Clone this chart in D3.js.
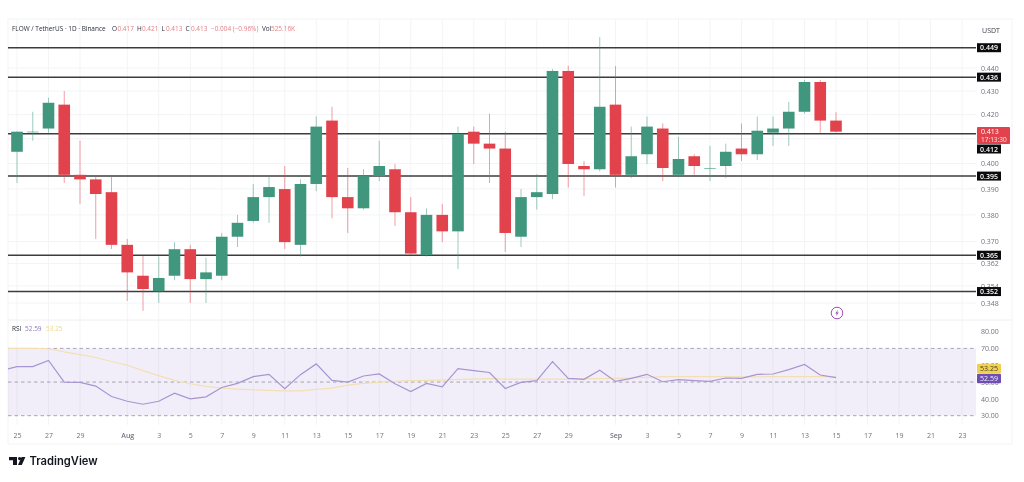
<!DOCTYPE html>
<html>
<head>
<meta charset="utf-8">
<script src="https://cdn.jsdelivr.net/npm/d3@7"></script>
<style>
  html, body { margin: 0; padding: 0; background: #fff; }
  svg { display: block; filter: blur(0.4px); font-family: "Open Sans", sans-serif; }
  .axis path, .axis line { display: none; }
  .axis text { fill: #6f7380; font-size: 7px; font-family: "Open Sans", sans-serif; }
</style>
</head>
<body>
<div id="vis"></div>
<script>
const [width, height] = [1024, 482];

// daily candles, 25 Jul .. 15 Sep, index 0 = 25 Jul
const opens  = [.4047,.4127,.4142,.4242,.3955,.3937,.3887,.3688,.3576,.3521,.3576,.3672,.3564,.3576,.3718,.3777,.3868,.3899,.3688,.3919,.4175,.3868,.3825,.395,.3977,.381,.365,.38,.3738,.4129,.408,.406,.3718,.3868,.388,.4387,.399,.3977,.4242,.3955,.4037,.4142,.3955,.4029,.3980,.399,.406,.4037,.4125,.4142,.4212,.4339,.4175];
const highs  = [.413,.4212,.4271,.43,.4092,.395,.3955,.371,.3648,.3645,.3698,.3688,.3641,.3732,.38,.3919,.395,.399,.3937,.4192,.4233,.3982,.3977,.4092,.3998,.3868,.3825,.3842,.415,.415,.4204,.4129,.3899,.3958,.4396,.4409,.401,.4538,.4409,.415,.4192,.4163,.4108,.4037,.4071,.408,.4163,.4192,.4192,.4254,.4348,.4348,.421];
const lows   = [.3923,.4092,.4125,.3923,.3842,.371,.3673,.3487,.3453,.348,.356,.348,.348,.356,.368,.377,.377,.3673,.3645,.3891,.3787,.3732,.382,.393,.3758,.3652,.3645,.3698,.36,.3998,.3923,.3662,.368,.382,.386,.3905,.3872,.3968,.3905,.3942,.3998,.393,.3945,.3955,.393,.3942,.401,.4014,.4071,.4071,.4204,.4125,.4125];
const closes = [.4129,.4129,.425,.3955,.3937,.388,.3688,.3588,.3529,.3568,.3672,.3564,.3588,.3718,.377,.3868,.3907,.3698,.3919,.415,.3868,.3825,.395,.399,.381,.3656,.38,.3738,.412,.408,.406,.3732,.3868,.3887,.4387,.3998,.3977,.4233,.3955,.4029,.415,.3982,.4018,.399,.3982,.4047,.4037,.4133,.4142,.4212,.4339,.4175,.4129];

// RSI starts one day earlier than the candles (index -1)
const rsiValues = [56.8,59.2,59.2,62.9,50,49.8,47.6,41.4,38.6,36.8,38.6,43.4,40,41.2,46.8,49.2,53.2,54.6,46,54.4,60.8,51,50,53.6,54.8,49,44.4,49.2,47.2,58,56.8,55.7,46.2,49.8,50.8,62.2,52.2,51.6,57,50.4,52.2,54.6,50.2,51.4,50.8,50.4,52.4,52.2,54.6,54.8,57.4,60.5,54.2,52.59];
const rsiMa = [70,70,70,69.8,67.9,66.3,64.6,62.2,60,56.8,53.8,51,49,47.4,46.4,45.8,45.4,45,44.8,44.8,45.6,46.4,48.2,49.2,49.8,50.4,50.8,51,51.2,51.6,51.8,52,51.8,51.8,51.8,51.8,51.8,52,52,52.2,52.4,52.8,53.2,53.2,53.2,53.2,53.2,53.1,53.1,53.2,53.2,53.25,53.25,53.25];

const priceTicks = [.44,.43,.42,.41,.40,.39,.38,.37,.362,.354,.348];
const hiddenPriceTicks = [.41]; // sits under the current price label
const levels = [.449,.436,.412,.395,.365,.352];
const rsiTicks = [80,70,60,50,40,30];
const rsiBandLines = [70,50,30];
const dayTicks  = [0,2,4,7,9,11,13,15,17,19,21,23,25,27,29,31,33,35,38,40,42,44,46,48,50,52,54,56,58,60];
const dayLabels = ["25","27","29","Aug","3","5","7","9","11","13","15","17","19","21","23","25","27","29","Sep","3","5","7","9","11","13","15","17","19","21","23"];

const headerText = ["FLOW / TetherUS · 1D · Binance","O","0.417","H","0.421","L","0.413","C","0.413","−0.004 (−0.96%)","Vol","525.16K"];

const GREEN = "#41977e", RED = "#e1424c", LINE = "#3c3c3e", GRID = "#f3f4f6";
const [plotL, plotR, plotT, paneB, rsiB, frameB] = [8, 976, 19, 320, 425, 444];

const x = d3.scaleLinear().domain([0, 60]).range([17, 962]);
const y = d3.scaleLog().domain([.44, .348]).range([68, 303]);
const yRsi = d3.scaleLinear().domain([80, 30]).range([331.6, 415.7]);

const svg = d3.select("#vis").append("svg")
  .attr("width", width).attr("height", height)
  .attr("viewBox", [0, 0, width, height]);

svg.append("clipPath").attr("id", "plot").append("rect")
  .attr("x", plotL).attr("y", plotT).attr("width", plotR - plotL).attr("height", rsiB - plotT);

// frame
svg.append("rect").attr("x", plotL).attr("y", plotT).attr("width", 1012 - plotL).attr("height", frameB - plotT)
  .attr("fill", "none").attr("stroke", "#f4f4f6");
svg.append("line").attr("x1", plotL).attr("x2", 1012).attr("y1", paneB).attr("y2", paneB).attr("stroke", "#eeeef1");

// grid
svg.append("g").selectAll("line").data(dayTicks).join("line")
  .attr("x1", x).attr("x2", x).attr("y1", plotT).attr("y2", rsiB).attr("stroke", GRID);
svg.append("g").selectAll("line").data(priceTicks).join("line")
  .attr("x1", plotL).attr("x2", plotR).attr("y1", y).attr("y2", y).attr("stroke", GRID);

// level lines
svg.append("g").selectAll("line").data(levels).join("line")
  .attr("x1", plotL).attr("x2", plotR).attr("y1", y).attr("y2", y)
  .attr("stroke", LINE).attr("stroke-width", 1.5);

// candles
const candles = svg.append("g").selectAll("g").data(opens).join("g")
  .attr("clip-path", "url(#plot)");
candles.append("line")
  .attr("x1", (d, i) => x(i)).attr("x2", (d, i) => x(i))
  .attr("y1", (d, i) => y(highs[i])).attr("y2", (d, i) => y(lows[i]))
  .attr("stroke", (d, i) => closes[i] >= opens[i] ? GREEN : RED)
  .attr("stroke-opacity", .5).attr("stroke-width", 1);
candles.append("rect")
  .attr("x", (d, i) => x(i) - 5.8).attr("width", 11.6)
  .attr("y", (d, i) => y(Math.max(opens[i], closes[i])))
  .attr("height", (d, i) => Math.max(.6, Math.abs(y(opens[i]) - y(closes[i]))))
  .attr("fill", (d, i) => closes[i] >= opens[i] ? GREEN : RED);

// RSI pane
svg.append("rect").attr("x", plotL).attr("width", plotR - plotL)
  .attr("y", yRsi(70)).attr("height", yRsi(30) - yRsi(70))
  .attr("fill", "#7e57c2").attr("fill-opacity", .1);
svg.append("g").selectAll("line").data(rsiBandLines).join("line")
  .attr("x1", plotL).attr("x2", plotR).attr("y1", yRsi).attr("y2", yRsi)
  .attr("stroke", "#8f8a9c").attr("stroke-dasharray", "3.5 3").attr("stroke-opacity", .75);
const rsiLine = d3.line().x((d, i) => x(i - 1)).y(d => yRsi(d));
svg.append("path").attr("clip-path", "url(#plot)").datum(rsiMa).attr("d", rsiLine)
  .attr("fill", "none").attr("stroke", "#f3dfb4").attr("stroke-width", 1.2);
svg.append("path").attr("clip-path", "url(#plot)").datum(rsiValues).attr("d", rsiLine)
  .attr("fill", "none").attr("stroke", "#a795d2").attr("stroke-width", 1.2);

// axes
const priceAxis = svg.append("g").attr("class", "axis").attr("transform", `translate(${plotR},0)`)
  .call(d3.axisRight(y).tickValues(priceTicks.filter(d => !hiddenPriceTicks.includes(d))).tickFormat(d3.format(".3f")).tickSize(0).tickPadding(5));
const rsiAxis = svg.append("g").attr("class", "axis").attr("transform", `translate(${plotR},0)`)
  .call(d3.axisRight(yRsi).tickValues(rsiTicks).tickFormat(d3.format(".2f")).tickSize(0).tickPadding(5));
const timeAxis = svg.append("g").attr("class", "axis").attr("transform", "translate(0,433.5)")
  .call(d3.axisBottom(x).tickValues(dayTicks).tickFormat((d, i) => dayLabels[i]).tickSize(0).tickPadding(0));
timeAxis.selectAll("text").attr("font-weight", (d, i) => isNaN(dayLabels[i]) ? 600 : 400);

svg.append("text").attr("x", 991).attr("y", 32.5).attr("text-anchor", "middle")
  .attr("font-size", 7).attr("fill", "#3a3d48").text("USDT");

// current price tag goes under the 0.412 tag
const tagX = plotR + 1;
svg.append("rect").attr("x", tagX).attr("y", 127).attr("width", 33).attr("height", 17).attr("rx", 1).attr("fill", RED);
svg.append("text").attr("x", tagX + 4).attr("y", 134).attr("font-size", 7).attr("fill", "#fff").text(closes[52].toFixed(3));
svg.append("text").attr("x", tagX + 4).attr("y", 142).attr("font-size", 6.5).attr("fill", "#fde4e4").text("17:13:30");

// level tags, the 0.412 one is pushed down by the price tag
levels.forEach(l => {
  const ty = l === .412 ? 149 : y(l);
  svg.append("rect").attr("x", tagX).attr("y", ty - 4.5).attr("width", 24).attr("height", 9).attr("fill", "#0b0b0d");
  svg.append("text").attr("x", tagX + 12).attr("y", ty + 2.5).attr("text-anchor", "middle")
    .attr("font-size", 7).attr("font-weight", 600).attr("fill", "#fff").text(d3.format(".3f")(l));
});

// RSI tags
[[368.5, "#f0cf55", "#4a3d10", 53.25], [378.5, "#6d4fb3", "#f3eefc", 52.59]].forEach(([ty, bg, fg, v]) => {
  svg.append("rect").attr("x", tagX).attr("y", ty - 4.8).attr("width", 24).attr("height", 9.6).attr("rx", 1).attr("fill", bg);
  svg.append("text").attr("x", tagX + 12).attr("y", ty + 2.5).attr("text-anchor", "middle")
    .attr("font-size", 7).attr("fill", fg).text(v.toFixed(2));
});

// header line
const headerX = [12, 112, 117.5, 137, 142, 161.5, 166, 185.5, 191, 211, 262, 271];
const headerFill = ["#2a2e39", "#2a2e39", "#e27f85", "#2a2e39", "#e27f85", "#2a2e39", "#e27f85", "#2a2e39", "#e27f85", "#e27f85", "#2a2e39", "#e27f85"];
svg.append("g").selectAll("text").data(headerText).join("text")
  .attr("x", (d, i) => headerX[i]).attr("y", 30.5).attr("font-size", 6.45)
  .attr("fill", (d, i) => headerFill[i]).text(d => d);

// RSI legend
svg.append("text").attr("x", 12).attr("y", 331).attr("font-size", 6.5).attr("fill", "#2a2e39").text("RSI");
svg.append("text").attr("x", 25).attr("y", 331).attr("font-size", 6.5).attr("fill", "#8a78bd").text("52.59");
svg.append("text").attr("x", 46).attr("y", 331).attr("font-size", 6.5).attr("fill", "#ecd98f").text("53.25");

// flash marker under the last candle
const flash = svg.append("g").attr("transform", `translate(${x(52) + 1},313)`);
flash.append("circle").attr("r", 5.8).attr("fill", "#fff").attr("stroke", "#a04fb8").attr("stroke-width", 1);
flash.append("path").attr("d", "M1,-3.2 L-1.8,0.6 L-0.2,0.6 L-1,3.2 L1.8,-0.6 L0.2,-0.6 Z").attr("fill", "#a04fb8");

// TradingView logo
const logo = svg.append("g").attr("fill", "#131722");
logo.append("path").attr("d", "M9,457 H17 V465 H13 V460.2 H9 Z");
logo.append("circle").attr("cx", 19.6).attr("cy", 458.6).attr("r", 1.6);
logo.append("path").attr("d", "M21.6,457 H25.4 L21.8,465 H18 Z");
svg.append("text").attr("x", 29.5).attr("y", 465.2).attr("font-family", "Inter, sans-serif")
  .attr("font-size", 11.2).attr("font-weight", 600).attr("fill", "#131722").text("TradingView");
</script>
</body>
</html>
